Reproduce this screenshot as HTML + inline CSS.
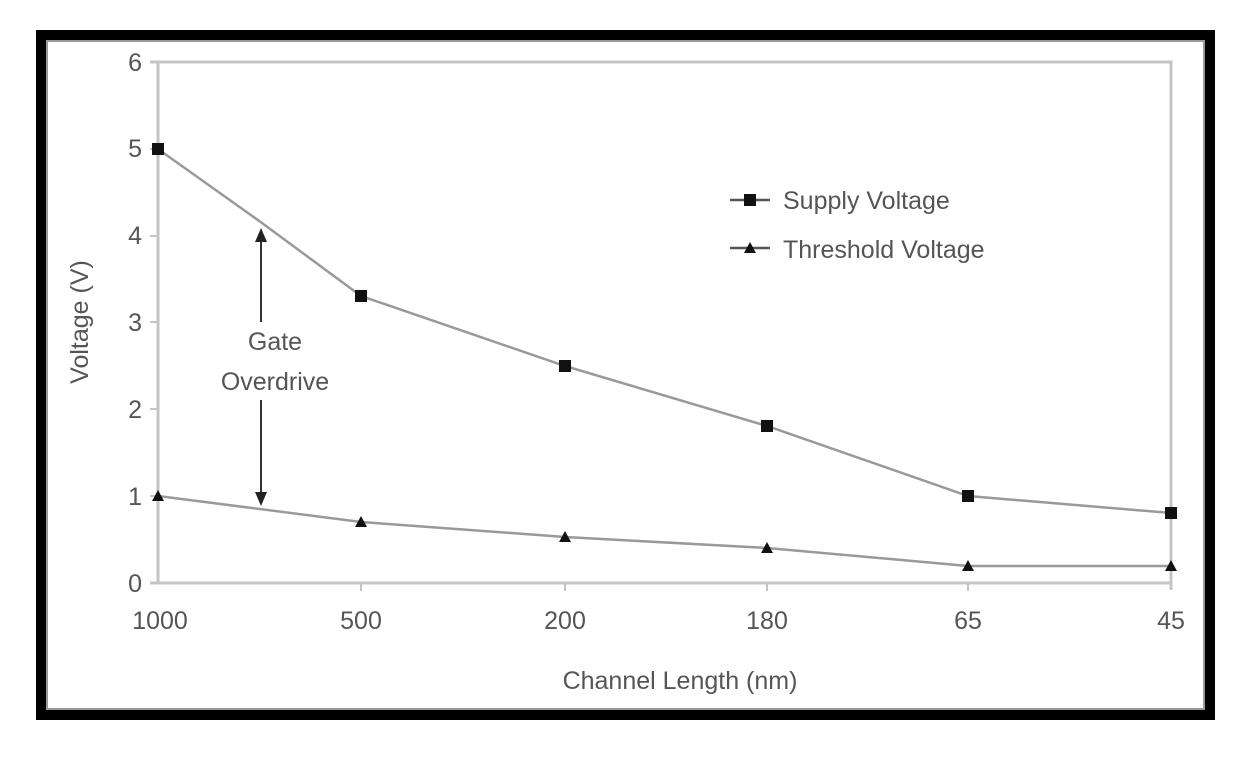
<!DOCTYPE html>
<html><head><style>
html,body{margin:0;padding:0;background:#fff;}
</style></head><body>
<svg width="1256" height="756" viewBox="0 0 1256 756" xmlns="http://www.w3.org/2000/svg" font-family="Liberation Sans, sans-serif">
<rect x="41" y="35" width="1169" height="680" fill="none" stroke="#000" stroke-width="10"/>
<rect x="47" y="41" width="1157" height="668" fill="none" stroke="#999" stroke-width="2"/>
<g stroke="#c4c4c4" stroke-width="3" fill="none">
<polyline points="150,62 1171,62 1171,590"/>
<line x1="158" y1="62" x2="158" y2="583"/>
<line x1="150" y1="583" x2="1171" y2="583"/>
<g stroke-width="2">
<line x1="150" y1="149" x2="158" y2="149"/><line x1="150" y1="236" x2="158" y2="236"/>
<line x1="150" y1="322" x2="158" y2="322"/><line x1="150" y1="409" x2="158" y2="409"/>
<line x1="150" y1="496" x2="158" y2="496"/>
<line x1="361" y1="583" x2="361" y2="591"/><line x1="565" y1="583" x2="565" y2="591"/>
<line x1="767" y1="583" x2="767" y2="591"/><line x1="968" y1="583" x2="968" y2="591"/>
</g></g>
<g fill="#555" font-size="25" text-anchor="end">
<text x="142" y="71">6</text><text x="142" y="157">5</text><text x="142" y="244">4</text>
<text x="142" y="331">3</text><text x="142" y="418">2</text><text x="142" y="505">1</text>
<text x="142" y="592">0</text>
</g>
<g stroke="#999" stroke-width="2.5" fill="none">
<polyline points="158,149 262,223 361,296 565,366 767,426 968,496 1171,513"/>
<polyline points="158,496 361,522 565,537 767,548 968,566 1171,566"/>
</g>
<line x1="261" y1="240" x2="261" y2="497" stroke="#333" stroke-width="2"/>
<polygon points="261,228 255,242 267,242" fill="#222"/>
<polygon points="261,506 255,492 267,492" fill="#222"/>
<rect x="218" y="322" width="114" height="78" fill="#fff"/>
<g fill="#555" font-size="25" text-anchor="middle">
<text x="160" y="629">1000</text><text x="361" y="629">500</text><text x="565" y="629">200</text>
<text x="767" y="629">180</text><text x="968" y="629">65</text><text x="1171" y="629">45</text>
<text x="680" y="689">Channel Length (nm)</text>
<text transform="translate(88,322) rotate(-90)">Voltage (V)</text>
<text x="275" y="350">Gate</text><text x="275" y="390">Overdrive</text>
</g>
<g fill="#111">
<rect x="152" y="143" width="12" height="12"/><rect x="355" y="290" width="12" height="12"/>
<rect x="559" y="360" width="12" height="12"/><rect x="761" y="420" width="12" height="12"/>
<rect x="962" y="490" width="12" height="12"/><rect x="1165" y="507" width="12" height="12"/>
<polygon points="158,490 164,501 152,501"/><polygon points="361,516 367,527 355,527"/>
<polygon points="565,531 571,542 559,542"/><polygon points="767,542 773,553 761,553"/>
<polygon points="968,560 974,571 962,571"/><polygon points="1171,560 1177,571 1165,571"/>
</g>
<line x1="730" y1="200" x2="770" y2="200" stroke="#555" stroke-width="2.5"/>
<rect x="744" y="194" width="12" height="12" fill="#111"/>
<line x1="730" y1="248" x2="770" y2="248" stroke="#555" stroke-width="2.5"/>
<polygon points="750,242 756,253 744,253" fill="#111"/>
<g fill="#555" font-size="25">
<text x="783" y="209">Supply Voltage</text>
<text x="783" y="258">Threshold Voltage</text>
</g>
</svg>
</body></html>
